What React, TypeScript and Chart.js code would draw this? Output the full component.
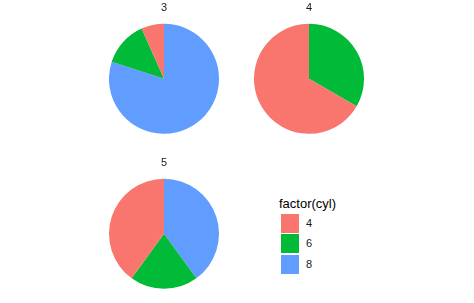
import React, { useEffect, useRef } from "react";
import { Chart, registerables } from "chart.js";

Chart.register(...registerables);

// Data: mtcars counts of cylinders by gear (facets)
const facets = ["3", "4", "5"];
const cylLevels = ["4", "6", "8"];
const cylColors = ["#F8766D", "#00BA38", "#619CFF"];
const gear3Counts = [1, 2, 12];
const gear4Counts = [8, 4, 0];
const gear5Counts = [2, 1, 2];
const facetCounts = [gear3Counts, gear4Counts, gear5Counts];

const FONT = "'Liberation Sans', Arial, sans-serif";

type PanelProps = { title: string; counts: number[]; left: number; top: number };

function PiePanel({ title, counts, left, top }: PanelProps) {
  const ref = useRef<HTMLCanvasElement | null>(null);
  useEffect(() => {
    if (!ref.current) return;
    // ggplot stacks first level on top, drawn clockwise from 12 o'clock => reverse order
    const labels = [...cylLevels].reverse();
    const data = [...counts].reverse();
    const colors = [...cylColors].reverse();
    const chart = new Chart(ref.current, {
      type: "pie",
      data: {
        labels,
        datasets: [
          {
            data,
            backgroundColor: colors,
            borderWidth: 0,
          },
        ],
      },
      options: {
        animation: false,
        responsive: false,
        maintainAspectRatio: false,
        layout: { padding: 0 },
        plugins: {
          legend: { display: false },
          tooltip: { enabled: false },
          title: {
            display: true,
            text: title,
            color: "#1A1A1A",
            font: { family: FONT, size: 11, weight: "normal" },
            padding: { top: 1, bottom: 9.4 },
          },
        },
      },
    });
    return () => chart.destroy();
  }, [title, counts]);
  return (
    <canvas
      ref={ref}
      width={110}
      height={134}
      style={{ position: "absolute", left, top, width: 110, height: 134 }}
    />
  );
}

export default function App() {
  const positions = [
    { left: 109, top: 0 },
    { left: 254, top: 0 },
    { left: 109, top: 155 },
  ];
  return (
    <div
      style={{
        position: "absolute",
        left: 0,
        top: 0,
        width: 474,
        height: 303,
        background: "#FFFFFF",
        fontFamily: FONT,
      }}
    >
      {facets.map((f, i) => (
        <PiePanel key={f} title={f} counts={facetCounts[i]} left={positions[i].left} top={positions[i].top} />
      ))}
      <div
        style={{
          position: "absolute",
          left: 279,
          top: 196,
          fontSize: 13,
          lineHeight: "15px",
          color: "#000",
        }}
      >
        factor(cyl)
      </div>
      {cylLevels.map((lvl, i) => (
        <React.Fragment key={lvl}>
          <div
            style={{
              position: "absolute",
              left: 281,
              top: 214 + i * 20.3,
              width: 18,
              height: 19,
              background: cylColors[i],
            }}
          />
          <div
            style={{
              position: "absolute",
              left: 306,
              top: 214 + i * 20.3,
              height: 19,
              lineHeight: "19px",
              fontSize: 11,
              color: "#1A1A1A",
            }}
          >
            {lvl}
          </div>
        </React.Fragment>
      ))}
    </div>
  );
}
